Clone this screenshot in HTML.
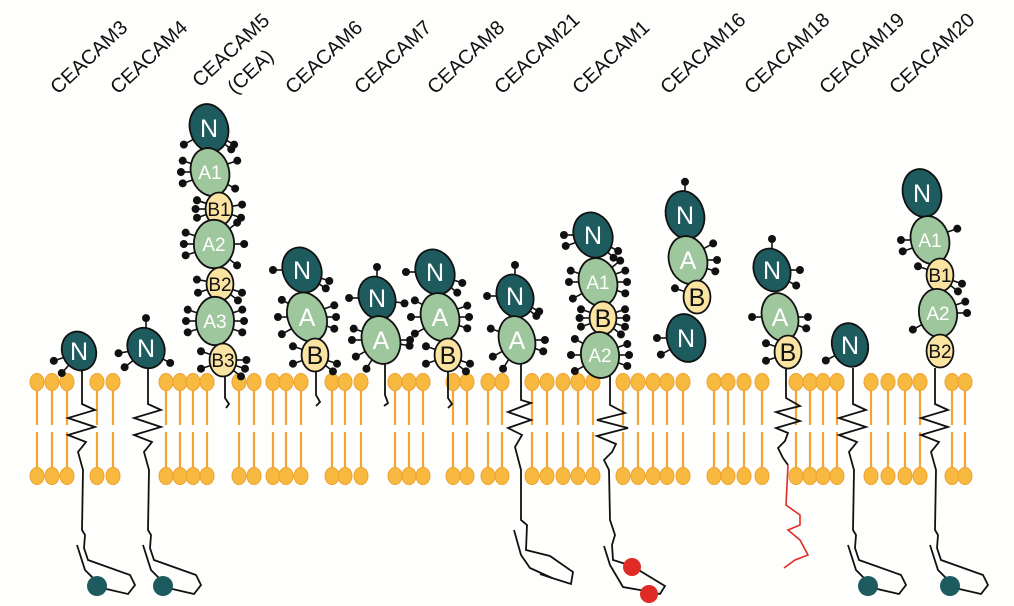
<!DOCTYPE html>
<html><head><meta charset="utf-8"><style>
html,body{margin:0;padding:0;background:#fefefc;}
svg{display:block;}
text{font-family:"Liberation Sans",sans-serif;}
</style></head><body>
<svg id="s" width="1014" height="606" viewBox="0 0 1014 606" xmlns="http://www.w3.org/2000/svg">
<rect width="1014" height="606" fill="#fefefc"/>
<g id="lip"></g><g id="stk"></g><g id="gly"></g><g id="dom"></g><g id="lab"></g>
</svg>
<script>
const NS="http://www.w3.org/2000/svg";
function el(p,t,a,txt){const e=document.createElementNS(NS,t);for(const k in a)e.setAttribute(k,a[k]);if(txt!==undefined)e.textContent=txt;document.getElementById(p).appendChild(e);return e;}
const hx=[37,52,67,97,113,166,180,193,207,239,254,273,286,301,332,345,361,395,409,423,453,467,488,502,532,547,563,578,593,623,638,653,667,683,714,728,744,762,796,810,823,837,871,888,905,920,952,965];
hx.forEach(x=>{
 el('lip','line',{x1:x,y1:388,x2:x,y2:425,stroke:'#f2a535','stroke-width':2.2});
 el('lip','line',{x1:x,y1:432,x2:x,y2:469,stroke:'#f2a535','stroke-width':2.2});
 el('lip','ellipse',{cx:x,cy:382,rx:7,ry:8.5,fill:'#f7b93f',stroke:'#eea232','stroke-width':1});
 el('lip','ellipse',{cx:x,cy:476,rx:7,ry:8.5,fill:'#f7b93f',stroke:'#eea232','stroke-width':1});
});
const labs=[["CEACAM3",58,95],["CEACAM4",118,95],["CEACAM5",200,88],["(CEA)",235,95],["CEACAM6",293,95],["CEACAM7",362,95],["CEACAM8",435,95],["CEACAM21",502,95],["CEACAM1",580,95],["CEACAM16",668,95],["CEACAM18",752,95],["CEACAM19",827,95],["CEACAM20",897,95]];
labs.forEach(([t,x,y])=>el('lab','text',{x:x,y:y,'font-size':20,fill:'#111',transform:`rotate(-43 ${x} ${y})`},t));
const C={N:'#1e5b5f',A:'#9fc79d',B:'#fbe3a2'};
function dom(cx,cy,rx,ry,rot,type,label,angs){
 rx*=1.12;ry*=1.1;rot=rot*1.5;
 (angs||[]).forEach(a=>{const r=a*Math.PI/180;const x1=cx+rx*0.9*Math.cos(r),y1=cy+ry*0.9*Math.sin(r),x2=cx+(rx+10)*Math.cos(r),y2=cy+(ry+9)*Math.sin(r);
  el('gly','line',{x1,y1,x2,y2,stroke:'#111','stroke-width':1.6});el('gly','circle',{cx:x2,cy:y2,r:4,fill:'#111'});});
 el('dom','ellipse',{cx,cy,rx,ry,fill:C[type],stroke:'#111','stroke-width':1.8,transform:`rotate(${rot} ${cx} ${cy})`});
 const fs=label.length>1?19:25;
 el('dom','text',{x:cx,y:cy+fs*0.36,'font-size':fs,'text-anchor':'middle',fill:type=='B'?'#111':'#fff'},label);
}
function path(d,c,w){el('stk','path',{d,fill:'none',stroke:c||'#111','stroke-width':w||1.8,'stroke-linejoin':'miter'});}
function anchor(x,ytop,circ){
 path(`M${x},${ytop} L${x},404 L${x+13},410 L${x-14},418 L${x+13},427 L${x-14},435 L${x+4},442 L${x-4},452 L${x+1},470 L${x},530 L${x+3},535 L${x+2},548 L${x+6},560 L${x+48},575 L${x+53},585 L${x+46},594 L${x+20},588`);
 path(`M${x-5},545 L${x+3},570 L${x+18},585`);
 if(circ)el('stk','circle',{cx:x+15,cy:586,r:10,fill:'#1e5b5f'});
}
anchor(82,368,true);
dom(79,351,15,18,-15,'N','N',[160,130]);
anchor(148,368,true);
dom(146,348,16,19,-20,'N','N',[-90,170,140,30]);
path('M225,374 L225,398 L229,404 L226,408');
dom(209,128,17,22,-10,'N','N',[40,30,150]);
dom(210,172,17,22,-10,'A','A1',[180,160,200,30,-20]);
dom(219,209,12,15,0,'B','B1',[180,160,200,20,-10,200]);
dom(214,244,18,22,0,'A','A2',[180,200,160,0,40,-40]);
dom(220,284,12,15,0,'B','B2',[190,160,20,40]);
dom(215,321,17,22,0,'A','A3',[180,200,160,0,20,-20]);
dom(223,360,12,15,0,'B','B3',[200,160,20,40,0]);
path('M316,370 L316,395 L320,402 L316,406');
dom(302,270,17,21,-15,'N','N',[180,20,35]);
dom(307,317,17,23,-15,'A','A',[180,210,150,20,0,-20]);
dom(315,355,12,15,0,'B','B',[200,160,20,40]);
path('M385,362 L385,395 L388,403 L384,406');
dom(377,298,16,20,-15,'N','N',[-90,180,10]);
dom(381,340,17,22,-10,'A','A',[180,200,150,10,0,120]);
path('M448,370 L448,398 L452,404 L448,408');
dom(435,272,17,21,-15,'N','N',[180,20,40]);
dom(440,317,17,22,-10,'A','A',[180,210,150,20,0,-20]);
dom(448,355,12,15,0,'B','B',[200,160,20,40]);
path('M521,362 L521,400 L531,403 L508,412 L531,420 L508,428 L522,435 L515,447 L521,470 L521,520 L527,525 L526,550 L550,556 L573,572 L571,584 L552,578 L540,574');
path('M514,530 L521,555 L530,568 L552,578');
dom(515,296,16,20,-15,'N','N',[-90,180,30,40]);
dom(517,340,16,22,-10,'A','A',[200,150,20,0,120]);
path('M610,375 L610,405 L625,413 L597,420 L628,428 L597,436 L616,444 L612,452 L604,460 L609,470 L610,520 L615,535 L612,545 L613,560 L632,566 L665,586 L660,594 L640,590 L623,587 L610,565 L604,546');
el('stk','circle',{cx:632,cy:567,r:9,fill:'#e02a26'});
el('stk','circle',{cx:649,cy:594,r:9,fill:'#e02a26'});
dom(593,235,17,21,-15,'N','N',[180,30,45,160]);
dom(598,282,17,22,-10,'A','A1',[180,200,150,20,0,-20,-40]);
dom(603,318,12,15,0,'B','B',[200,180,160,20,0,-20,40]);
dom(600,355,17,21,-5,'A','A2',[180,210,20,0,-20,150]);
dom(685,215,17,22,-10,'N','N',[-90]);
dom(688,260,17,22,-10,'A','A',[0,20,-30]);
dom(697,297,12,15,0,'B','B',[200]);
dom(686,338,17,22,-10,'N','N',[180,150]);
path('M786,368 L786,398 L800,406 L776,412 L800,421 L776,428 L788,433 L785,441 L778,448 L783,458 L788,465');
path('M788,465 L786,505 L800,515 L800,525 L788,530 L800,540 L808,555 L795,560 L784,568','#e02a26',1.6);
dom(772,270,16,20,-15,'N','N',[-90,0,30]);
dom(780,317,16,22,-10,'A','A',[180,20,0]);
dom(788,352,12,15,0,'B','B',[200,160]);
anchor(853,368,true);
dom(850,345,16,20,-10,'N','N',[150]);
anchor(935,368,true);
dom(922,193,17,22,-10,'N','N',[]);
dom(930,240,17,22,-10,'A','A1',[180,160,-20]);
dom(940,275,12,15,0,'B','B1',[200,20,40]);
dom(938,313,17,22,-5,'A','A2',[150,0,-20]);
dom(940,351,12,15,0,'B','B2',[]);
</script>
</body></html>
